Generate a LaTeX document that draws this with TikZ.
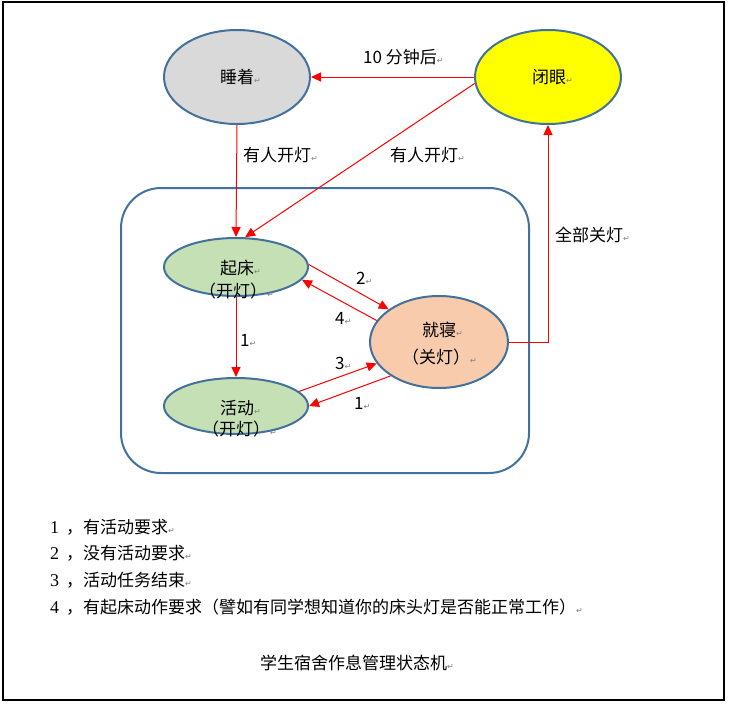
\documentclass[tikz,border=0pt]{standalone}
\usepackage{fontspec}
\newfontfamily\cjk{Noto Sans CJK SC}
\newfontfamily\dejavu{DejaVu Sans}
\newfontfamily\digitfont{Liberation Serif}
\usetikzlibrary{arrows.meta,shapes.geometric}
\definecolor{stblue}{HTML}{41719C}
\definecolor{sgray}{HTML}{D9D9D9}
\definecolor{sgreen}{HTML}{C5E0B4}
\definecolor{speach}{HTML}{F8CBAD}
\definecolor{syellow}{HTML}{FFFF00}
\newcommand\rt{{\dejavu\fontsize{8}{8}\selectfont\color{gray}↵}}
\newcommand\lnum[1]{\makebox[16pt][l]{\digitfont\fontsize{18}{20}\selectfont #1}}
\tikzset{
  state/.style={ellipse, draw=stblue, line width=2pt, inner sep=0pt},
  txt/.style={anchor=west, inner sep=0pt, font=\cjk\fontsize{17}{20}\selectfont},
  listtxt/.style={anchor=west, inner sep=0pt, font=\cjk\fontsize{17}{20}\selectfont},
  trans/.style={draw=red, line width=1pt, -{Triangle[length=10pt,width=9pt]}},
}
\begin{document}
\begin{tikzpicture}[x=1pt,y=-1pt]
\useasboundingbox (0,0) rectangle (729,707);
% outer frame
\node[draw=black, line width=1.2pt, rectangle, minimum width=721pt, minimum height=698pt, inner sep=0pt] (frame) at (363.5,351) {};
% rounded group box
\node[draw=stblue, line width=2pt, rectangle, rounded corners=40pt, minimum width=408pt, minimum height=285pt, inner sep=0pt] (group) at (325,330.5) {};
% states
\node[state, fill=sgray, minimum width=146pt, minimum height=94pt] (s1) at (237,77) {};
\node[state, fill=syellow, minimum width=146pt, minimum height=94pt] (s2) at (548,77) {};
\node[state, fill=sgreen, minimum width=144pt, minimum height=58pt] (s3) at (236,267) {};
\node[state, fill=sgreen, minimum width=144pt, minimum height=56pt] (s4) at (236,406) {};
\node[state, fill=speach, minimum width=138pt, minimum height=92pt] (s5) at (439,342) {};
% state texts
\node[txt] (t1) at (220,77) {睡着\rt};
\node[txt] (t2) at (532,77) {闭眼\rt};
\node[txt] (t3a) at (220,268) {起床\rt};
\node[txt] (t3b) at (199,291) {（开灯）\rt};
\node[txt] (t4a) at (220,408) {活动\rt};
\node[txt] (t4b) at (202,429) {（开灯）\rt};
\node[txt] (t5a) at (422,330) {就寝\rt};
\node[txt] (t5b) at (402,357) {（关灯）\rt};
% transitions
\draw[trans] (s2.west) -- (s1.east);
\draw[trans] (s1.south) -- (s3.north);
\draw[trans] (s2.185) -- (s3.73);
\draw[trans] (s5.east) -| (s2.south);
\draw[trans] (s3.2) -- (s5.147);
\draw[trans] (s5.161) -- (s3.-11);
\draw[trans] (s3.south) -- (s4.north);
\draw[trans] (s4.13) -- (s5.199);
\draw[trans] (s5.215) -- (s4.0);
% transition labels
\node[txt] (l1) at (363,57) {10 分钟后\rt};
\node[txt] (l2) at (243,155) {有人开灯\rt};
\node[txt] (l3) at (390,155) {有人开灯\rt};
\node[txt] (l4) at (555,235) {全部关灯\rt};
\node[txt] (l5) at (356,278) {2\rt};
\node[txt] (l6) at (335,318) {4\rt};
\node[txt] (l7) at (240,340) {1\rt};
\node[txt] (l8) at (335,363) {3\rt};
\node[txt] (l9) at (354,403) {1\rt};
% legend
\node[listtxt] (k1) at (50,527) {\lnum{1}，有活动要求\rt};
\node[listtxt] (k2) at (50,553) {\lnum{2}，没有活动要求\rt};
\node[listtxt] (k3) at (50,580) {\lnum{3}，活动任务结束\rt};
\node[listtxt] (k4) at (50,607) {\lnum{4}，有起床动作要求（譬如有同学想知道你的床头灯是否能正常工作）\rt};
\node[txt] (cap) at (260,663) {学生宿舍作息管理状态机\rt};
\end{tikzpicture}
\end{document}
